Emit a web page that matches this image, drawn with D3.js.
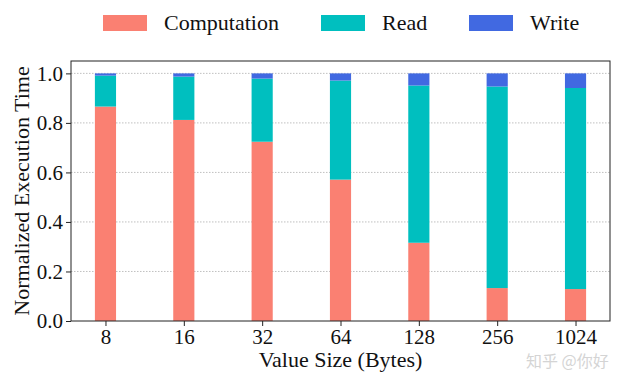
<!DOCTYPE html>
<html><head><meta charset="utf-8">
<script src="https://cdn.jsdelivr.net/npm/d3@7/dist/d3.min.js"></script>
<style>body{margin:0;background:#fff}svg{display:block}
svg text{font-family:"Liberation Serif",serif !important;}
svg text.cjk{font-family:"Noto Sans CJK SC",sans-serif !important;}
</style>
</head><body>
<script>
const categories = ["8","16","32","64","128","256","1024"];
const computation = [0.866, 0.812, 0.724, 0.571, 0.316, 0.133, 0.129];
const read = [0.125, 0.175, 0.255, 0.400, 0.635, 0.814, 0.812];
const write = [0.009, 0.013, 0.021, 0.029, 0.049, 0.053, 0.059];
const seriesNames = ["Computation","Read","Write"];
const seriesColors = ["#FA8072","#00BFBF","#4169E1"];
const yTicks = [0,0.2,0.4,0.6,0.8,1.0];

const W=644,H=380;
const m={l:71,r:610,t:61,b:321};
const FONT="Liberation Serif";
const ctx=document.createElement("canvas").getContext("2d");
ctx.font=`20px "${FONT}"`; ctx.measureText("Computation 0123456789");

const svg=d3.select("body").append("svg").attr("width",W).attr("height",H);

const x=d3.scaleLinear().domain([-0.44,6.44]).range([m.l,m.r]);
const y=d3.scaleLinear().domain([0,1.05]).range([m.b,m.t]);
const barW=0.27;

// grid
svg.append("g").selectAll("line").data(yTicks.filter(d=>d>0)).join("line")
  .attr("x1",m.l).attr("x2",m.r).attr("y1",d=>y(d)).attr("y2",d=>y(d))
  .attr("stroke","#b0b0b0").attr("stroke-width",0.8).attr("stroke-dasharray","1.5,1.5");

const stackData=categories.map((c,i)=>({c,i,Computation:computation[i],Read:read[i],Write:write[i]}));
const stack=d3.stack().keys(seriesNames)(stackData);
svg.append("g").selectAll("g").data(stack).join("g")
  .attr("fill",(d,i)=>seriesColors[i])
  .selectAll("rect").data(d=>d).join("rect")
  .attr("x",d=>x(d.data.i-barW/2)).attr("width",d=>x(barW)-x(0))
  .attr("y",d=>y(d[1])).attr("height",d=>y(d[0])-y(d[1]));

// axes
const xa=svg.append("g").attr("transform",`translate(0,${m.b})`)
  .call(d3.axisBottom(x).tickValues(d3.range(categories.length)).tickFormat(i=>categories[i]).tickSize(5).tickPadding(3));
const ya=svg.append("g").attr("transform",`translate(${m.l},0)`)
  .call(d3.axisLeft(y).tickValues(yTicks).tickFormat(d3.format(".1f")).tickSize(5).tickPadding(3));
[xa,ya].forEach(a=>{a.attr("font-family",FONT).attr("font-size",21);a.select(".domain").remove();
  a.selectAll("text").attr("font-family",FONT).attr("font-size",21).attr("fill","#111");a.selectAll("line").attr("stroke","#222");});
svg.append("rect").attr("x",m.l).attr("y",m.t).attr("width",m.r-m.l).attr("height",m.b-m.t)
  .attr("fill","none").attr("stroke","#222").attr("stroke-width",1);

svg.append("text").attr("x",(m.l+m.r)/2).attr("y",367).attr("text-anchor","middle")
  .attr("font-family",FONT).attr("font-size",22).attr("fill","#111").text("Value Size (Bytes)");
svg.append("text").attr("transform",`translate(29,${(m.t+m.b)/2}) rotate(-90)`).attr("text-anchor","middle")
  .attr("font-family",FONT).attr("font-size",22).attr("fill","#111").text("Normalized Execution Time");

// legend
const legX=[103,321,469];
const lg=svg.append("g").selectAll("g").data(seriesNames).join("g")
  .attr("transform",(d,i)=>`translate(${legX[i]},15)`);
lg.append("rect").attr("width",44).attr("height",16).attr("fill",(d,i)=>seriesColors[i]);
lg.append("text").attr("x",61).attr("y",15).attr("font-family",FONT).attr("font-size",22).attr("fill","#111").text(d=>d);

svg.append("text").attr("class","cjk").attr("x",526).attr("y",367).attr("font-family","Noto Sans CJK SC")
  .attr("font-size",16).attr("fill","#d4d4d4").text("知乎 @你好");
</script>
</body></html>
